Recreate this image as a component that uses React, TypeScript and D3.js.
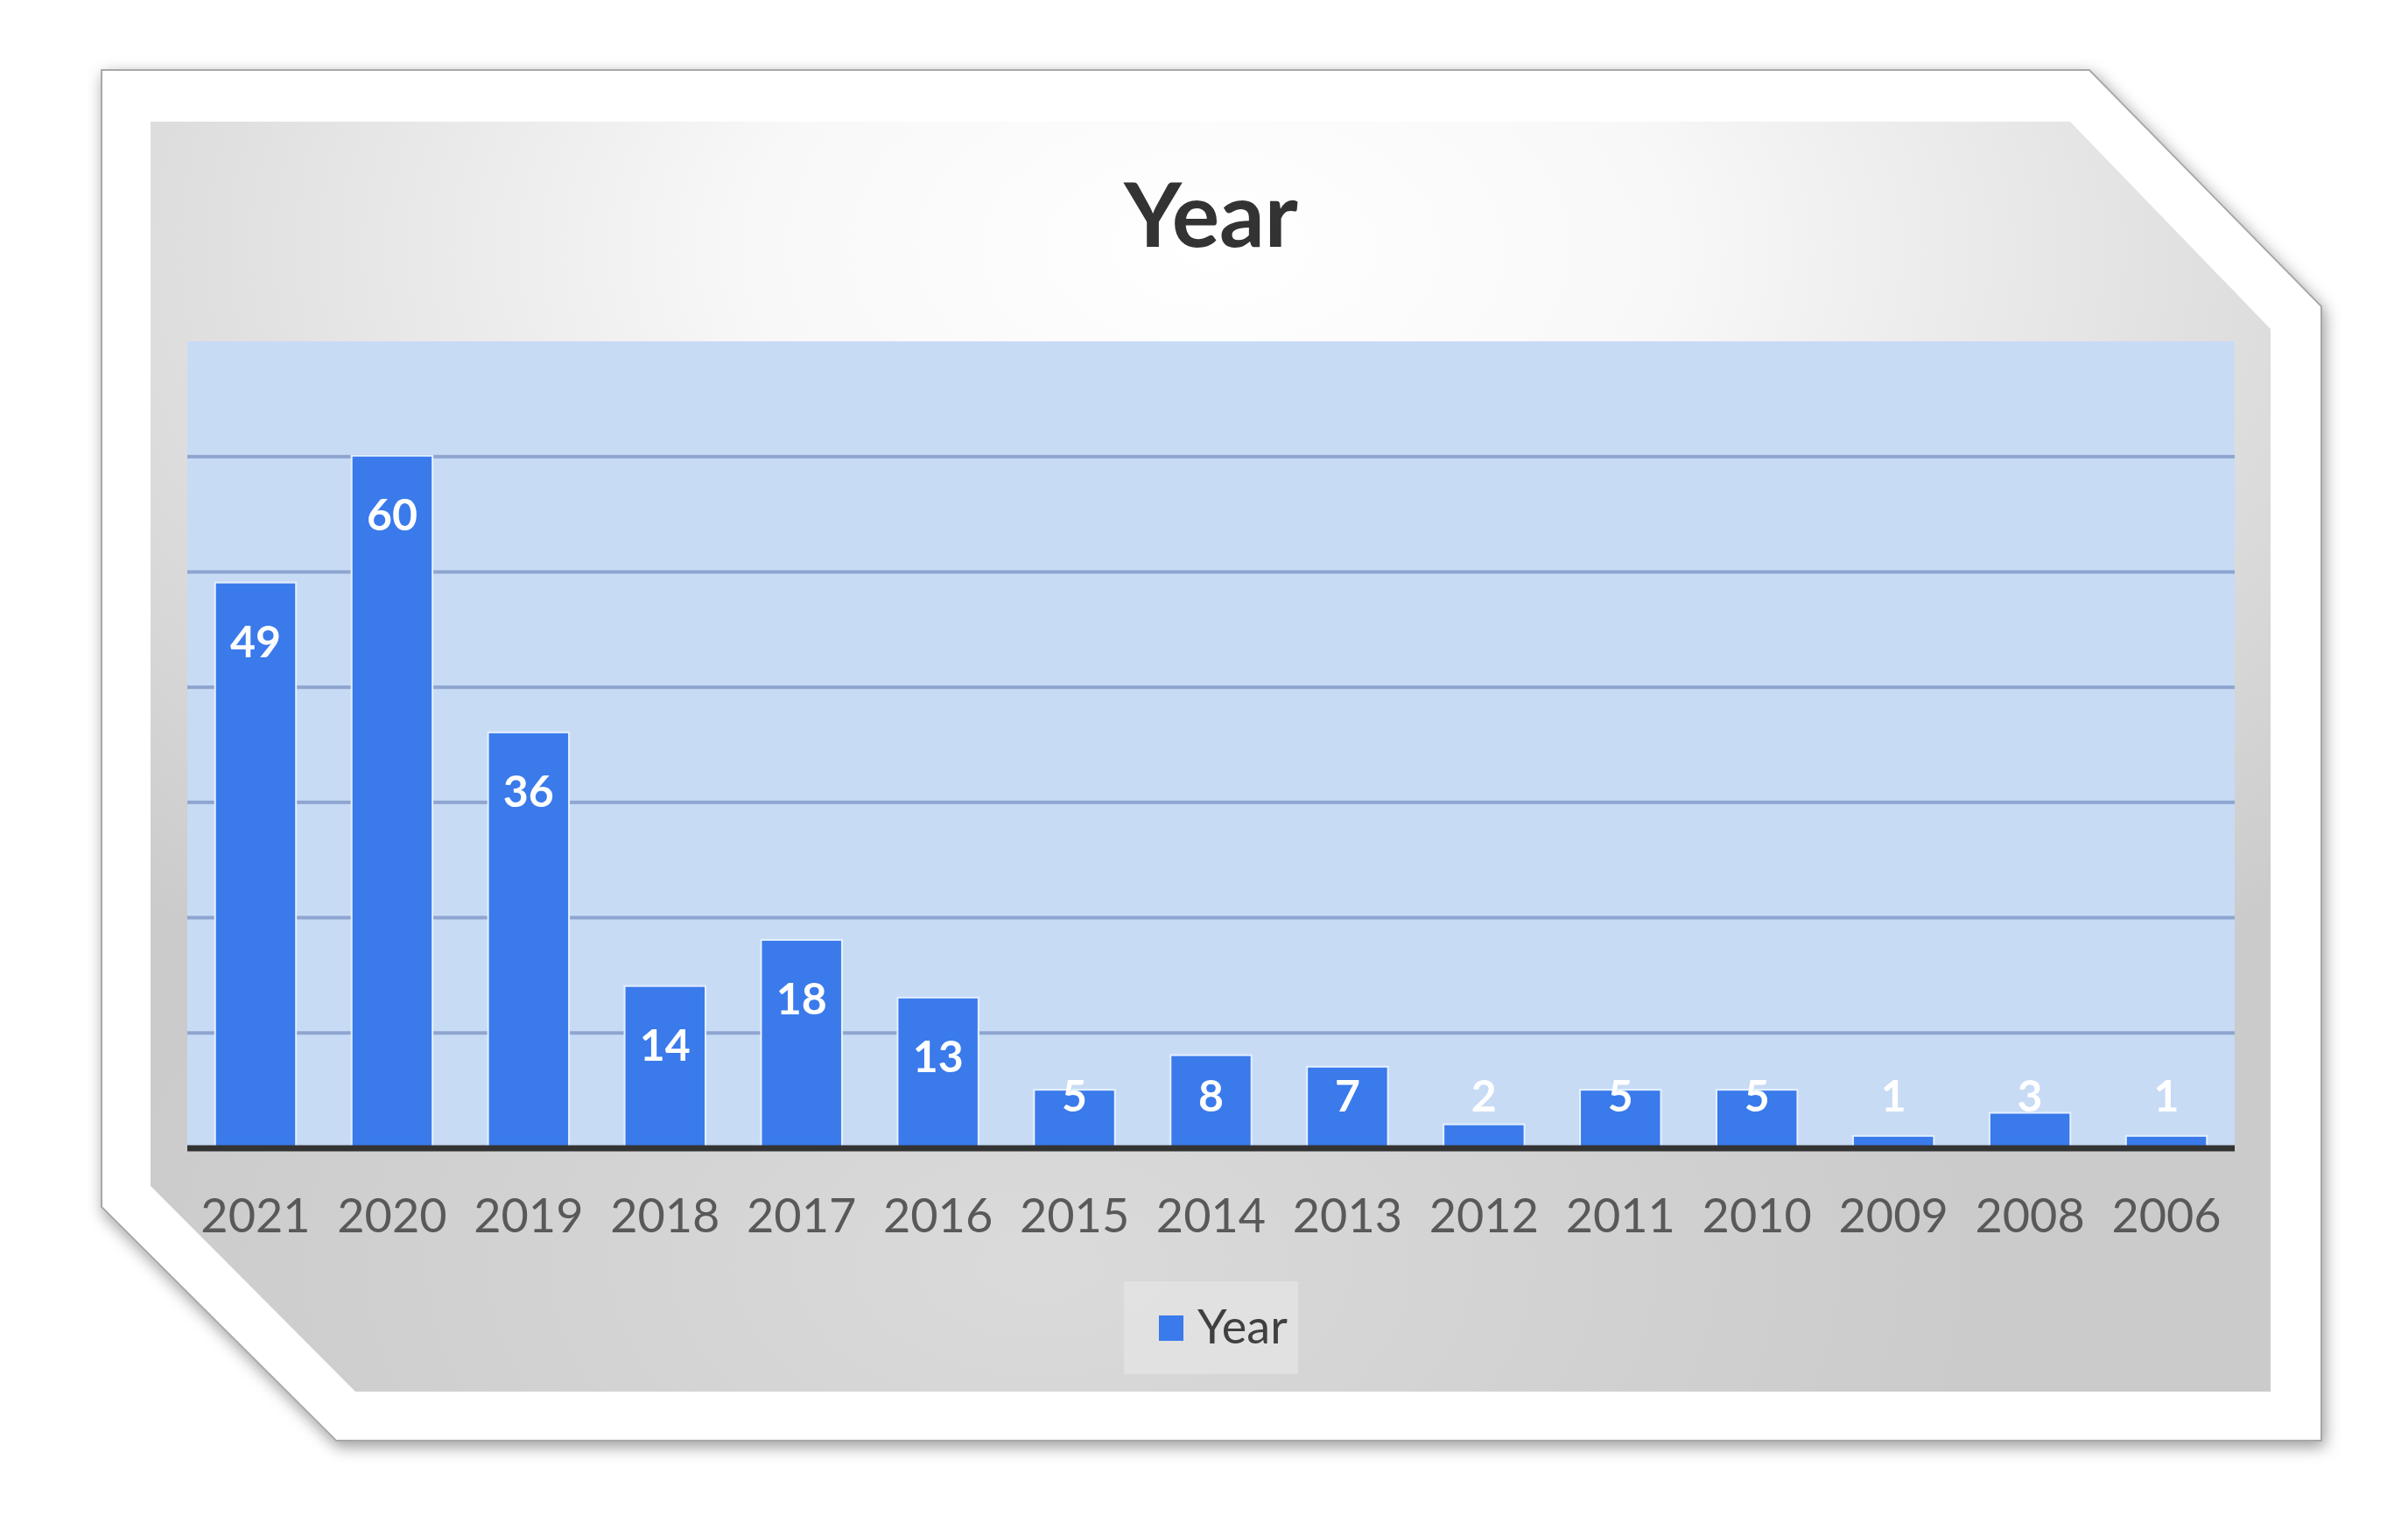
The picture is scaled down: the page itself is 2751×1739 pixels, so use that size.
import * as d3 from "d3";

const years = ["2021", "2020", "2019", "2018", "2017", "2016", "2015", "2014", "2013", "2012", "2011", "2010", "2009", "2008", "2006"];
const counts = [49, 60, 36, 14, 18, 13, 5, 8, 7, 2, 5, 5, 1, 3, 1];
const gridTicks = [10, 20, 30, 40, 50, 60];
const seriesName = "Year";

const W = 2751;
const H = 1739;
const plot = { left: 214, right: 2553, top: 390, bottom: 1312 };
const font = "Lato, 'Open Sans', sans-serif";

export default function App() {
  const x = d3
    .scaleBand()
    .domain(years)
    .range([plot.left, plot.right])
    .paddingInner(0.42)
    .paddingOuter(0.21);

  const y = d3.scaleLinear().domain([0, 70]).range([plot.bottom, plot.top]);

  // outer white card and inner shaded panel, both with cut corners
  const frame = d3.line()([
    [116, 80], [2387, 80], [2652, 350], [2652, 1646], [384, 1646], [116, 1379],
  ]) + "Z";
  const panel = d3.line()([
    [172, 139], [2365, 139], [2594, 376], [2594, 1590], [406, 1590], [172, 1355],
  ]) + "Z";

  return (
    <svg
      width={W}
      height={H}
      style={{ position: "absolute", left: 0, top: 0, background: "#fff" }}
    >
      <defs>
        <filter id="shadow" x="-5%" y="-5%" width="110%" height="112%">
          <feDropShadow dx="3" dy="6" stdDeviation="9" floodColor="#000" floodOpacity="0.4" />
        </filter>
        <radialGradient id="panelFill" cx="0.5" cy="0.1" r="0.72">
          <stop offset="0" stopColor="#ffffff" />
          <stop offset="0.3" stopColor="#f8f8f8" />
          <stop offset="0.65" stopColor="#e0e0e0" />
          <stop offset="1" stopColor="#cbcbcb" />
        </radialGradient>
        <radialGradient id="bottomGlow" cx="0.42" cy="0.9" r="0.45">
          <stop offset="0" stopColor="#ffffff" stopOpacity="0.3" />
          <stop offset="1" stopColor="#ffffff" stopOpacity="0" />
        </radialGradient>
      </defs>

      <path d={frame} fill="#fff" stroke="#a8a8a8" strokeWidth={2} filter="url(#shadow)" />
      <path d={panel} fill="url(#panelFill)" />
      <path d={panel} fill="url(#bottomGlow)" />

      <text
        x={(plot.left + plot.right) / 2}
        y={282}
        textAnchor="middle"
        fontFamily={font}
        fontWeight={700}
        fontSize={102}
        fill="#333"
      >
        Year
      </text>

      {/* plot area */}
      <rect
        x={plot.left}
        y={plot.top}
        width={plot.right - plot.left}
        height={plot.bottom - plot.top}
        fill="#c8dbf5"
      />

      {gridTicks.map((t) => (
        <line
          key={t}
          x1={plot.left}
          x2={plot.right}
          y1={y(t)}
          y2={y(t)}
          stroke="#8ea5d0"
          strokeWidth={4}
        />
      ))}

      {years.map((yr, i) => (
        <rect
          key={yr}
          x={x(yr)}
          y={y(counts[i])}
          width={x.bandwidth()}
          height={plot.bottom - y(counts[i])}
          fill="#3a7aeb"
          stroke="#e4f0ff"
          strokeWidth={4}
          paintOrder="stroke"
        />
      ))}

      <line
        x1={plot.left}
        x2={plot.right}
        y1={plot.bottom}
        y2={plot.bottom}
        stroke="#333"
        strokeWidth={7}
      />

      {/* data labels: inside end, pushed up for short bars */}
      {years.map((yr, i) => (
        <text
          key={yr}
          x={x(yr) + x.bandwidth() / 2}
          y={Math.min(y(counts[i]) + 66, plot.bottom - 60)}
          dy="0.36em"
          textAnchor="middle"
          fontFamily={font}
          fontWeight={700}
          fontSize={50}
          fill="#fff"
        >
          {counts[i]}
        </text>
      ))}

      {years.map((yr) => (
        <text
          key={yr}
          x={x(yr) + x.bandwidth() / 2}
          y={1408}
          textAnchor="middle"
          fontFamily={font}
          fontSize={54}
          fill="#595959"
        >
          {yr}
        </text>
      ))}

      {/* legend */}
      <rect x={1284} y={1464} width={199} height={106} fill="#e8e8e8" opacity={0.6} />
      <rect x={1324} y={1503} width={28} height={29} fill="#3a7aeb" />
      <text x={1368} y={1535} fontFamily={font} fontSize={54} fill="#404040">
        {seriesName}
      </text>
    </svg>
  );
}
